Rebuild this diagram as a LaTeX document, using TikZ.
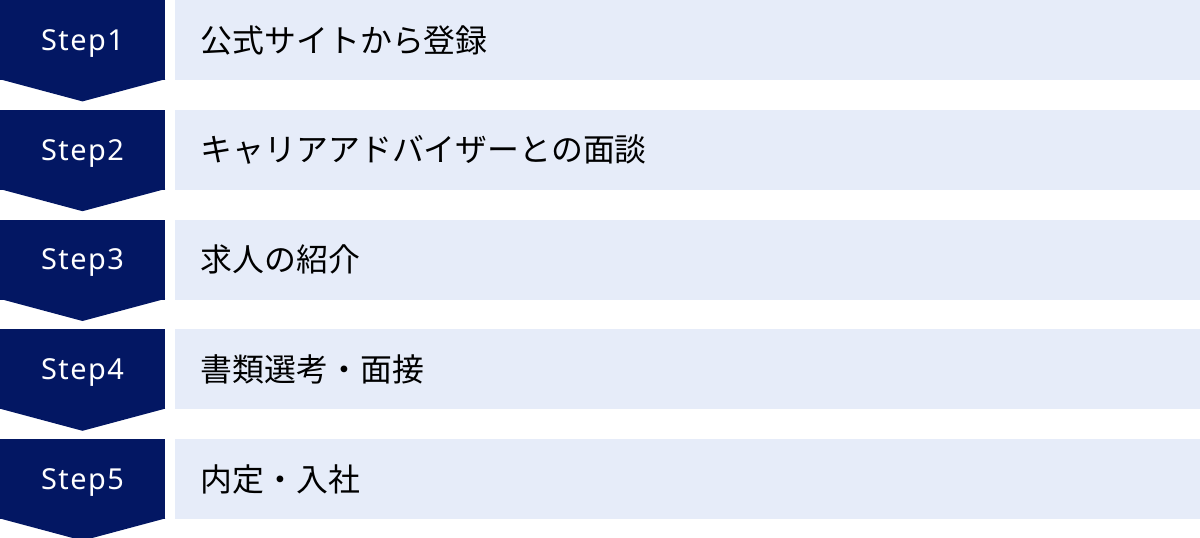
\documentclass[tikz,border=0pt]{standalone}
\usepackage{fontspec}
\setmainfont{Noto Sans CJK JP}
\newfontfamily\stepfont[LetterSpace=5]{Noto Sans}
\usetikzlibrary{positioning}
\definecolor{stepnavy}{HTML}{031763}
\definecolor{rowblue}{HTML}{E6ECF9}

\begin{document}
\begin{tikzpicture}[x=0.5bp,y=-0.5bp,node distance=14.5bp,
    stepbox/.style={fill=stepnavy,text=white,minimum width=82.5bp,minimum height=40bp,
      inner sep=0pt,text height=10.3pt,text depth=0pt,
      font=\stepfont\fontsize{14.5}{16}\selectfont},
    rowbox/.style={fill=rowblue,minimum height=40bp,text width=487bp,inner xsep=13bp,
      inner ysep=0pt,align=left,font=\fontsize{16}{18}\selectfont}]

        \useasboundingbox (0,0) rectangle (1200,538);

        \node[stepbox] (S1) at (82.5,40)  {Step1};
        \node[stepbox] (S2) [below=of S1] {Step2};
        \node[stepbox] (S3) [below=of S2] {Step3};
        \node[stepbox] (S4) [below=of S3] {Step4};
        \node[stepbox] (S5) [below=of S4] {Step5};

        \node[rowbox]  (R1) [right=4.5bp of S1] {公式サイトから登録};
        \node[rowbox]  (R2) [right=4.5bp of S2] {キャリアアドバイザーとの面談};
        \node[rowbox]  (R3) [right=4.5bp of S3] {求人の紹介};
        \node[rowbox]  (R4) [right=4.5bp of S4] {書類選考・面接};
        \node[rowbox]  (R5) [right=4.5bp of S5] {内定・入社};

        \foreach \s in {S1,S2,S3,S4,S5}
          \fill[stepnavy] ([yshift=0.6bp]\s.south west) -- ([yshift=0.6bp]\s.south east)
                          -- ([yshift=-10.5bp]\s.south) -- cycle;
      \end{tikzpicture}
\end{document}
